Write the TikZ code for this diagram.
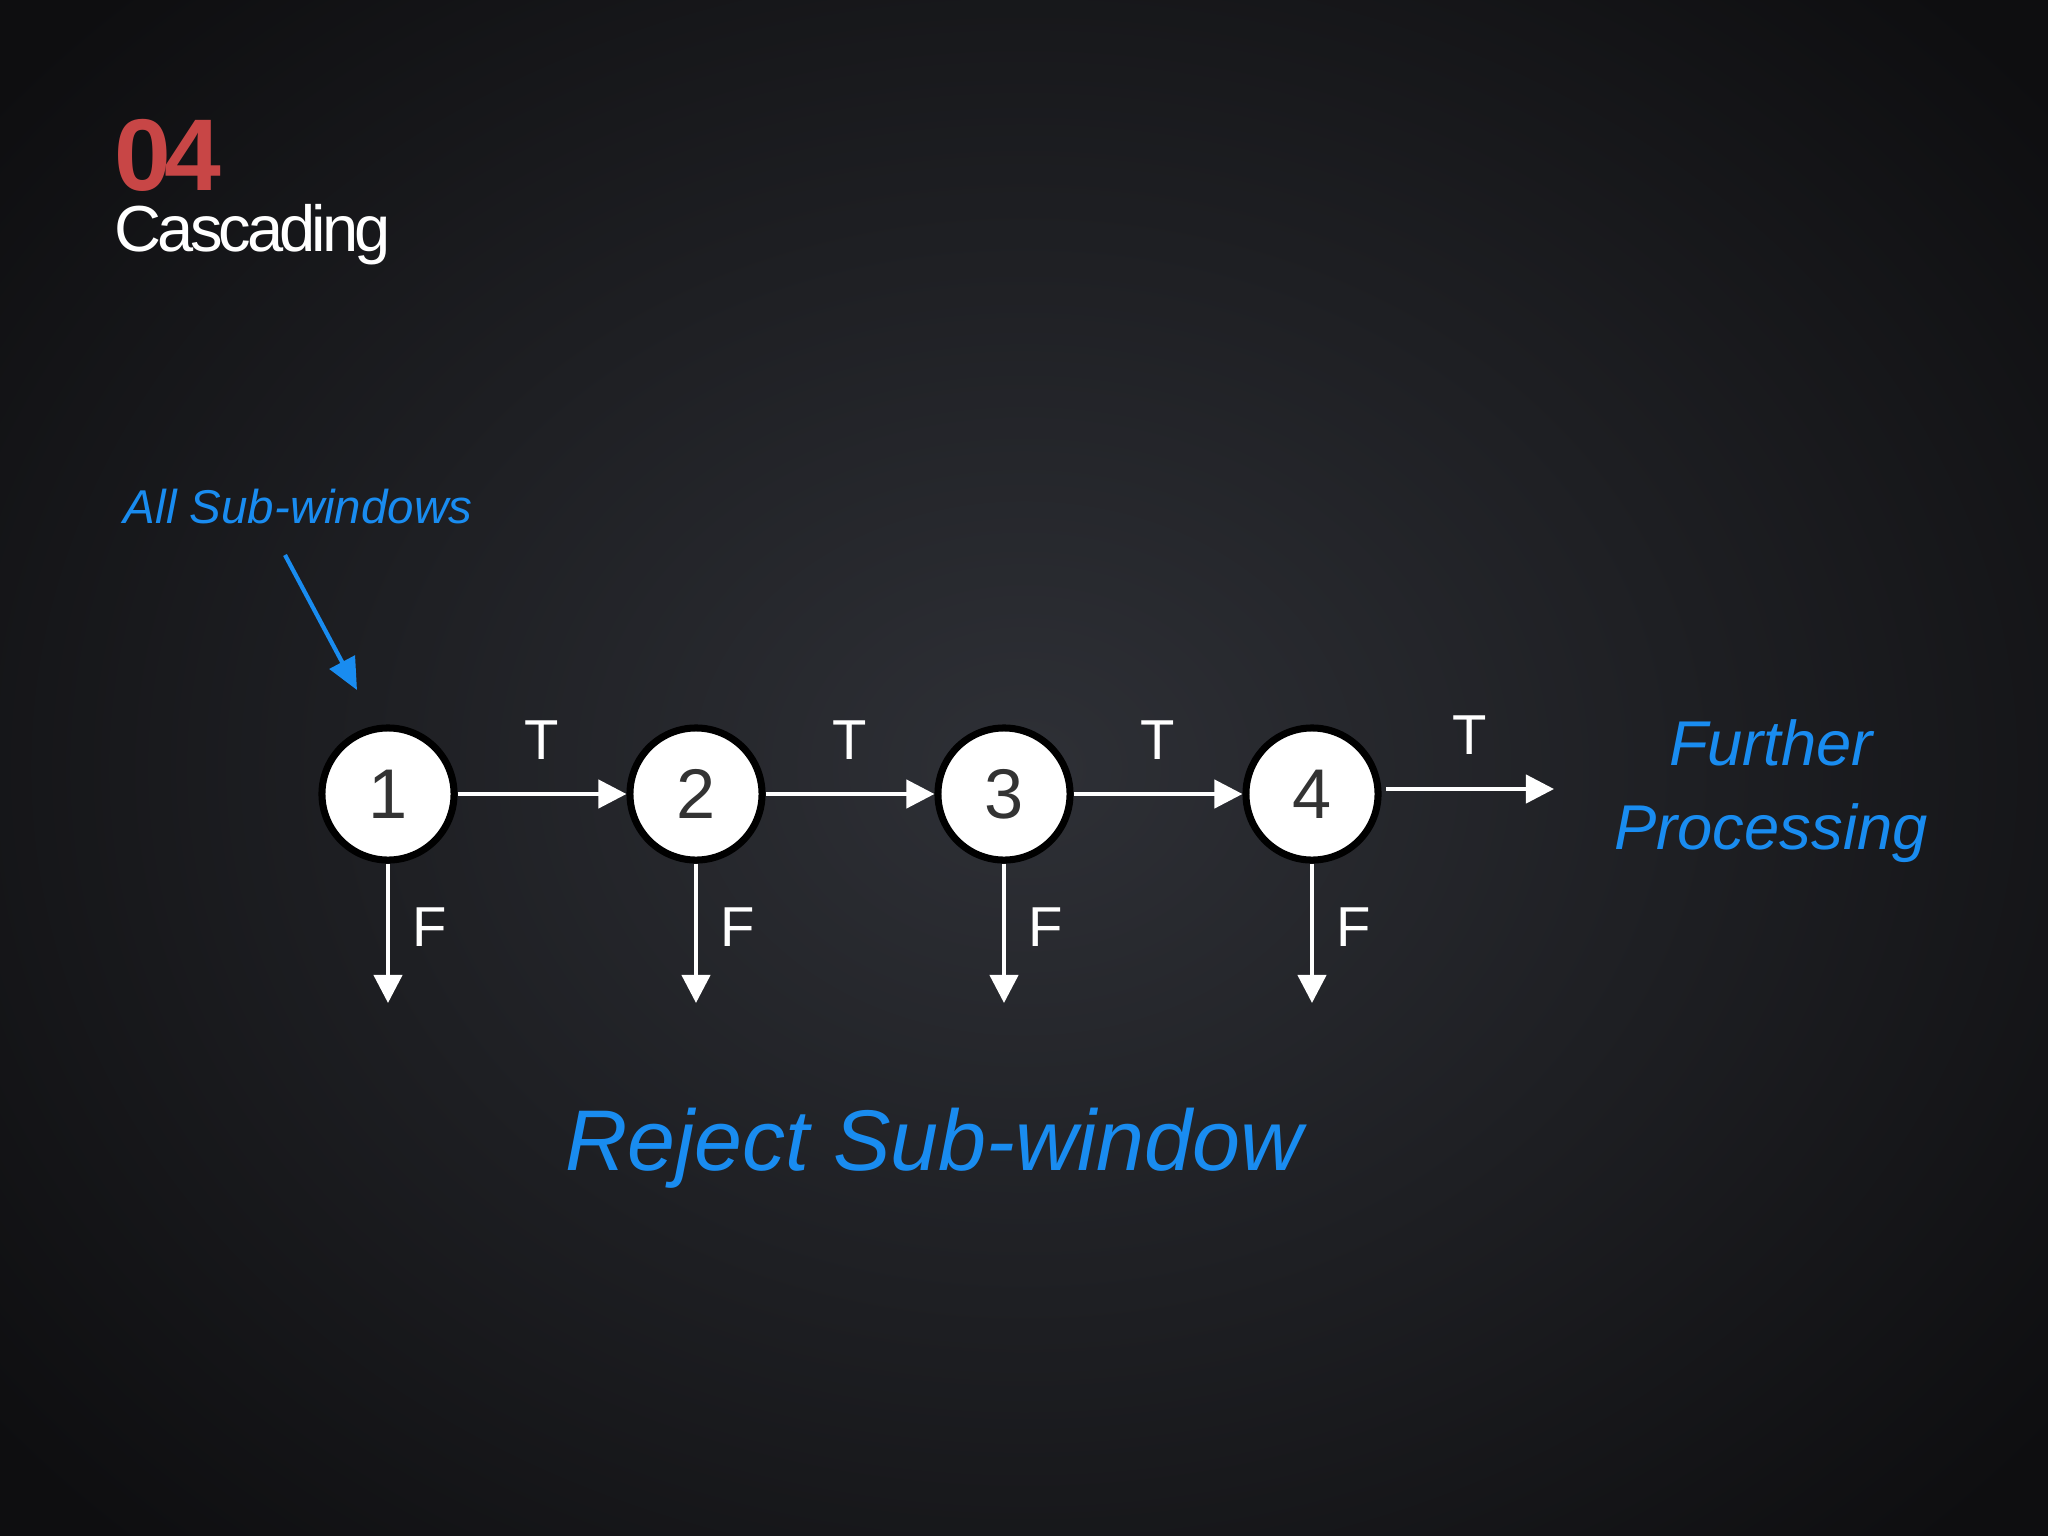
\documentclass[tikz,border=0pt]{standalone}
\usepackage{fontspec}
\setmainfont{Liberation Sans}
\usetikzlibrary{arrows.meta}
\definecolor{skyb}{RGB}{25,140,240}
\definecolor{redn}{RGB}{200,70,70}
\definecolor{bgc}{RGB}{46,48,54}
\definecolor{bgo}{RGB}{14,14,16}
\tikzset{
 st/.style={circle,draw=black,line width=2pt,fill=white,minimum size=1.32cm,inner sep=0pt,font=\fontsize{20}{24}\selectfont,text=black!80},
 ar/.style={white,line width=1.2pt,-{Triangle[length=8pt,width=8pt]}},
 lb/.style={white,font=\fontsize{16}{18}\selectfont},
 bl/.style={skyb,font=\itshape}
}
\begin{document}
\begin{tikzpicture}[x=0.01cm,y=-0.01cm]
\useasboundingbox (0,0) rectangle (2048,1536);
\begin{scope}
\clip (0,0) rectangle (2048,1536);
\shade[inner color=bgc,outer color=bgo] (-300,-300) rectangle (2348,1836);
\end{scope}
\node[anchor=south west,inner sep=0,text=redn,font=\bfseries\fontsize{29}{30}\selectfont] (n04) at (114,192) {0\kern-2pt4};
\node[anchor=south west,inner sep=0,text=white,font=\fontsize{18.5}{20}\selectfont] (tit) at (114,266) {\addfontfeature{LetterSpace=-6}Cascading};
\foreach \i/\x in {1/388,2/696,3/1004,4/1312}{
  \node[st] (s\i) at (\x,794) {\i};
  \coordinate (f\i) at (\x,1003);
  \draw[ar] (s\i) -- (f\i);
  \node[lb] at (\x+42,927) {F};
}
\foreach \a/\b in {1/2,2/3,3/4}{
  \draw[ar] (s\a) -- (s\b) node[midway,above=6pt,lb] {T};
}
\coordinate (fp) at (1554,789);
\coordinate (s4e) at (1386,789);
\draw[ar] (s4e) -- (fp) node[midway,above=6pt,lb] {T};
\node[bl,font=\itshape\fontsize{18}{22}\selectfont,align=center] (fur) at (1771,791) {Further\\[2pt]Processing};
\node[bl,font=\itshape\fontsize{24.5}{30}\selectfont] (rej) at (934,1148) {Reject Sub-window};
\node[bl,font=\itshape\fontsize{13.5}{16}\selectfont] (all) at (298,507) {All Sub-windows};
\coordinate (a1) at (285,555);
\coordinate (a2) at (357,690);
\draw[skyb,line width=1.2pt,-{Triangle[length=9pt,width=8pt]}] (a1) -- (a2);
\end{tikzpicture}
\end{document}
